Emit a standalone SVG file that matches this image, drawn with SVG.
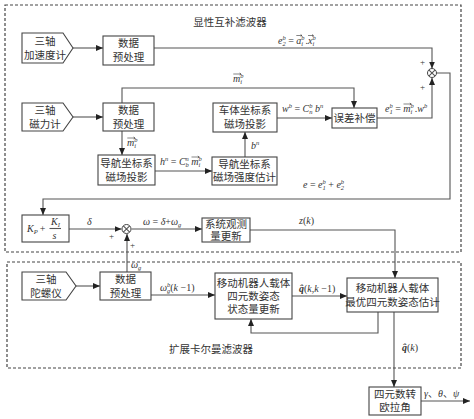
<svg xmlns="http://www.w3.org/2000/svg" width="474" height="419" viewBox="0 0 474 419">
<defs>
<marker id="ah" markerWidth="7" markerHeight="6" refX="7" refY="3" orient="auto" markerUnits="userSpaceOnUse">
<path d="M0,0 L7,3 L0,6 Z" fill="#222"/>
</marker>
<style>
.dash{fill:none;stroke:#444;stroke-width:1.2;stroke-dasharray:3,2}
.box{fill:#fff;stroke:#444;stroke-width:1.1}
.ln{fill:none;stroke:#555;stroke-width:1.1}
.ar{fill:none;stroke:#555;stroke-width:1.1;marker-end:url(#ah)}
.vec{fill:none;stroke:#333;stroke-width:0.6}
.cn{font-family:"Liberation Serif","Noto Sans CJK SC",serif;font-size:10.5px;fill:#333;text-anchor:middle}
.m{font-family:"Liberation Serif","DejaVu Serif",serif;font-style:italic;font-size:10px;fill:#333}
.s{font-size:6.5px}
.u{font-style:normal}
.pl{font-family:"Liberation Serif",serif;font-size:9px;fill:#333}
</style>
</defs>
<rect class="dash" x="5" y="5" width="456" height="247"/>
<rect class="dash" x="7" y="262" width="454" height="106"/>
<text class="cn" x="230" y="26">显性互补滤波器</text>
<text class="cn" x="211" y="353">扩展卡尔曼滤波器</text>

<g id="connectors">
<path class="ar" d="M73,48 H103"/>
<path class="ar" d="M154,48 H432 V68.5"/>
<path class="ar" d="M73,117 H103"/>
<path class="ar" d="M122,103 V88 H354 V108"/>
<path class="ar" d="M122,131 V155"/>
<path class="ar" d="M155,171 H212"/>
<path class="ar" d="M245,157 V132"/>
<path class="ar" d="M277,118 H332"/>
<path class="ar" d="M377,118 H432 V78"/>
<path class="ar" d="M436.5,73 H450 V199 H43 V215"/>
<path class="ar" d="M69,229 H121.5"/>
<path class="ar" d="M127,272 V234"/>
<path class="ar" d="M131.5,229 H202"/>
<path class="ar" d="M250,230 H395 V278"/>
<path class="ar" d="M76,286 H100"/>
<path class="ar" d="M151,295 H215"/>
<path class="ar" d="M292,296 H347"/>
<path class="ar" d="M378,312 V333 H251 V319"/>
<path class="ar" d="M394,312 V387"/>
<path class="ar" d="M421,401 H470"/>
</g>

<g id="sum1">
<circle cx="432" cy="73" r="4.5" fill="#fff" stroke="#444" stroke-width="1"/>
<path class="ln" d="M428.8,69.8 L435.2,76.2 M435.2,69.8 L428.8,76.2" stroke-width="0.9"/>
</g>
<g id="sum2">
<circle cx="126.5" cy="229" r="4.5" fill="#fff" stroke="#444" stroke-width="1"/>
<path class="ln" d="M123.3,225.8 L129.7,232.2 M129.7,225.8 L123.3,232.2" stroke-width="0.9"/>
</g>

<g id="acc">
<polygon class="box" points="22,33 63,33 73,48 63,63 22,63"/>
<text class="cn" x="45" y="45">三轴</text>
<text class="cn" x="45" y="59">加速度计</text>
</g>
<g id="pre1">
<rect class="box" x="103" y="36" width="51" height="29"/>
<text class="cn" x="128.5" y="47">数据</text>
<text class="cn" x="128.5" y="61">预处理</text>
</g>
<g id="mag">
<polygon class="box" points="22,103 63,103 73,117 63,131 22,131"/>
<text class="cn" x="45" y="114">三轴</text>
<text class="cn" x="45" y="128">磁力计</text>
</g>
<g id="pre2">
<rect class="box" x="103" y="103" width="51" height="28"/>
<text class="cn" x="128.5" y="114">数据</text>
<text class="cn" x="128.5" y="128">预处理</text>
</g>
<g id="navproj">
<rect class="box" x="98" y="155" width="57" height="30"/>
<text class="cn" x="126.5" y="167">导航坐标系</text>
<text class="cn" x="126.5" y="181">磁场投影</text>
</g>
<g id="navint">
<rect class="box" x="212" y="157" width="65" height="28"/>
<text class="cn" x="244.5" y="168">导航坐标系</text>
<text class="cn" x="244.5" y="181">磁场强度估计</text>
</g>
<g id="bodyproj">
<rect class="box" x="213" y="103" width="64" height="29"/>
<text class="cn" x="245" y="114">车体坐标系</text>
<text class="cn" x="245" y="128">磁场投影</text>
</g>
<g id="errcomp">
<rect class="box" x="332" y="108" width="45" height="20"/>
<text class="cn" x="354.5" y="122">误差补偿</text>
</g>
<g id="pi">
<rect class="box" x="22" y="215" width="47" height="27"/>
<text class="m" x="27" y="232">K<tspan class="s" dy="2">P</tspan><tspan class="u" dx="2" dy="-2">+</tspan></text>
<text class="m" x="51" y="225">K<tspan class="s" dy="2">I</tspan></text>
<path class="ln" d="M49.5,228.5 H61" stroke-width="0.8"/>
<text class="m" x="52.5" y="239">s</text>
</g>
<g id="sysobs">
<rect class="box" x="202" y="218" width="48" height="24"/>
<text class="cn" x="226" y="228">系统观测</text>
<text class="cn" x="226" y="240">量更新</text>
</g>
<g id="gyro">
<polygon class="box" points="22,272 66,272 76,286 66,300 22,300"/>
<text class="cn" x="46" y="283">三轴</text>
<text class="cn" x="46" y="297">陀螺仪</text>
</g>
<g id="pre3">
<rect class="box" x="100" y="272" width="51" height="28"/>
<text class="cn" x="125.5" y="283">数据</text>
<text class="cn" x="125.5" y="297">预处理</text>
</g>
<g id="stateupd">
<rect class="box" x="215" y="273" width="77" height="46"/>
<text class="cn" x="253.5" y="287">移动机器人载体</text>
<text class="cn" x="253.5" y="300">四元数姿态</text>
<text class="cn" x="253.5" y="313">状态量更新</text>
</g>
<g id="optest">
<rect class="box" x="347" y="278" width="91" height="34"/>
<text class="cn" x="392.5" y="292">移动机器人载体</text>
<text class="cn" x="392.5" y="306">最优四元数姿态估计</text>
</g>
<g id="euler">
<rect class="box" x="369" y="387" width="52" height="28"/>
<text class="cn" x="395" y="398">四元数转</text>
<text class="cn" x="395" y="411">欧拉角</text>
</g>

<g id="labels">
<text class="m" x="278" y="44">e<tspan class="s" dy="-4">b</tspan><tspan class="s" dx="-3.3" dy="6">2</tspan><tspan class="u" dy="-2"> = </tspan>a<tspan class="s" dy="-4">b</tspan><tspan class="s" dx="-3.3" dy="6">i</tspan><tspan class="u" dy="-2"> .</tspan>x<tspan class="s" dy="-4">b</tspan><tspan class="s" dx="-3.3" dy="6">i</tspan></text>
<path class="vec" d="M296.3,35.5 H302 M300.6,34.5 L302,35.5 L300.6,36.5 M308,35.5 H313.4 M312,34.5 L313.4,35.5 L312,36.5"/>
<text class="pl" x="420" y="65">+</text>
<text class="pl" x="420" y="90">+</text>
<text class="m" x="233" y="82">m<tspan class="s" dy="-4">b</tspan><tspan class="s" dx="-3.3" dy="6">i</tspan></text>
<path class="vec" d="M233.3,74 H241 M239.6,73 L241,74 L239.6,75"/>
<text class="m" x="127" y="146">m<tspan class="s" dy="-4">b</tspan><tspan class="s" dx="-3.3" dy="6">i</tspan></text>
<path class="vec" d="M127.3,138 H135 M133.6,137 L135,138 L133.6,139"/>
<text class="m" x="160" y="165">h<tspan class="s" dy="-4">n</tspan><tspan class="u" dy="4"> = </tspan>C<tspan class="s" dy="-4">n</tspan><tspan class="s" dx="-3.3" dy="6">b</tspan><tspan dy="-2"> m</tspan><tspan class="s" dy="-4">b</tspan><tspan class="s" dx="-3.3" dy="6">i</tspan></text>
<path class="vec" d="M191.5,157 H199.2 M197.8,156 L199.2,157 L197.8,158"/>
<text class="m" x="251" y="149">b<tspan class="s" dy="-4">n</tspan></text>
<text class="m" x="282" y="112">w<tspan class="s" dy="-4">b</tspan><tspan class="u" dy="4"> = </tspan>C<tspan class="s" dy="-4">b</tspan><tspan class="s" dx="-3.3" dy="6">n</tspan><tspan dy="-2"> b</tspan><tspan class="s" dy="-4">n</tspan></text>
<text class="m" x="385" y="112">e<tspan class="s" dy="-4">b</tspan><tspan class="s" dx="-3.3" dy="6">1</tspan><tspan class="u" dy="-2"> = </tspan>m<tspan class="s" dy="-4">b</tspan><tspan class="s" dx="-3.3" dy="6">i</tspan><tspan class="u" dy="-2"> .</tspan>w<tspan class="s" dy="-4">b</tspan></text>
<path class="vec" d="M403.5,104 H411.2 M409.8,103 L411.2,104 L409.8,105"/>
<text class="m" x="303" y="188">e<tspan class="u"> = </tspan>e<tspan class="s" dy="-4">b</tspan><tspan class="s" dx="-3.3" dy="6">1</tspan><tspan class="u" dy="-2"> + </tspan>e<tspan class="s" dy="-4">b</tspan><tspan class="s" dx="-3.3" dy="6">2</tspan></text>
<text class="m" x="87" y="225">δ</text>
<text class="pl" x="109" y="239">+</text>
<text class="pl" x="130" y="248">+</text>
<text class="m" x="143" y="225">ω<tspan class="u"> = </tspan>δ<tspan class="u">+</tspan>ω<tspan class="s" dy="2">g</tspan></text>
<text class="m" x="299" y="224">z<tspan class="u">(</tspan>k<tspan class="u">)</tspan></text>
<text class="m" x="131" y="268">ω<tspan class="s" dy="2">g</tspan></text>
<text class="m" x="160" y="291">ω<tspan class="s" dy="-4">b</tspan><tspan class="s" dx="-3.3" dy="6">g</tspan><tspan class="u" dy="-2">(</tspan>k<tspan class="u"> −1)</tspan></text>
<text class="m" x="299" y="292"><tspan font-weight="bold">q&#x302;</tspan><tspan class="u">(</tspan>k<tspan class="u">,</tspan>k<tspan class="u"> −1)</tspan></text>
<text class="m" x="402" y="351"><tspan font-weight="bold">q&#x302;</tspan><tspan class="u">(</tspan>k<tspan class="u">)</tspan></text>
<text class="m" x="424" y="397">γ<tspan class="u" font-family="Noto Sans CJK SC">、</tspan>θ<tspan class="u" font-family="Noto Sans CJK SC">、</tspan>ψ</text>
</g>
</svg>
